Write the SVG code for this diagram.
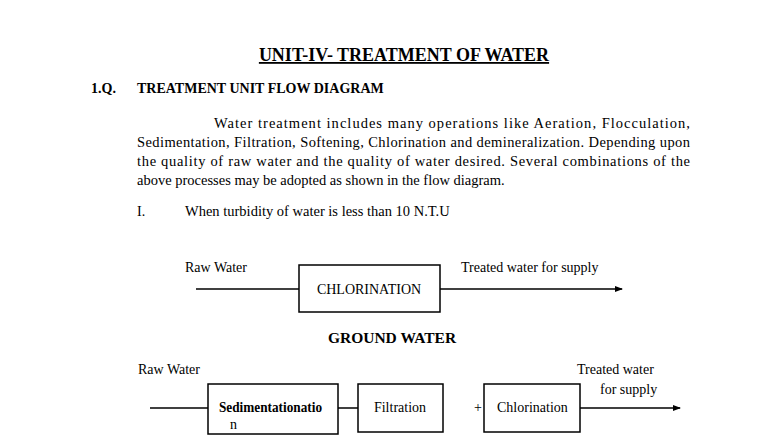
<svg xmlns="http://www.w3.org/2000/svg" width="784" height="441" viewBox="0 0 784 441">
<style>
text{font-family:"Liberation Serif",serif;font-size:14px;fill:#000}
.b{font-weight:bold}
.p{font-size:14.5px}
.box{fill:#fff;stroke:#000;stroke-width:1.5}
.ln{stroke:#000;stroke-width:1.5;fill:none}
</style>
<defs><marker id="ar" markerWidth="8" markerHeight="6" refX="7" refY="3" orient="auto" markerUnits="userSpaceOnUse"><path d="M0,0L8,3L0,6z" fill="#000"/></marker></defs>
<rect width="784" height="441" fill="#fff"/>
<text x="404" y="61" class="b" text-anchor="middle" text-decoration="underline" style="font-size:18px">UNIT-IV- TREATMENT OF WATER</text>
<text x="91" y="93" class="b">1.Q.</text>
<text x="137" y="93" class="b">TREATMENT UNIT FLOW DIAGRAM</text>
<text class="p" x="214" y="128" textLength="476" lengthAdjust="spacing">Water treatment includes many operations like Aeration, Flocculation,</text>
<text class="p" x="137" y="147" textLength="553" lengthAdjust="spacing">Sedimentation, Filtration, Softening, Chlorination and demineralization. Depending upon</text>
<text class="p" x="137" y="166" textLength="553" lengthAdjust="spacing">the quality of raw water and the quality of water desired. Several combinations of the</text>
<text class="p" x="137" y="185">above processes may be adopted as shown in the flow diagram.</text>
<text x="137" y="216">I.</text>
<text class="p" x="185" y="216">When turbidity of water is less than 10 N.T.U</text>
<g id="connectors">
<line class="ln" x1="196" y1="289" x2="299" y2="289"/>
<line class="ln" x1="440" y1="289" x2="622" y2="289" marker-end="url(#ar)"/>
<line class="ln" x1="150" y1="408" x2="208" y2="408"/>
<line class="ln" x1="338" y1="408" x2="358" y2="408"/>
<line class="ln" x1="580" y1="408" x2="680" y2="408" marker-end="url(#ar)"/>
</g>
<g id="n1"><rect class="box" x="299" y="265" width="141" height="47"/><text x="369" y="294" text-anchor="middle">CHLORINATION</text></g>
<text x="185" y="272">Raw Water</text>
<text x="461" y="272">Treated water for supply</text>
<text x="392" y="343" class="b" text-anchor="middle" style="font-size:15.5px">GROUND WATER</text>
<text x="138" y="374">Raw Water</text>
<text x="577" y="374">Treated water</text>
<text x="600" y="394">for supply</text>
<g id="n2"><rect class="box" x="208" y="384" width="130" height="50"/><text x="219" y="412" class="b" textLength="103" lengthAdjust="spacingAndGlyphs">Sedimentationatio</text><text x="230" y="429">n</text></g>
<g id="n3"><rect class="box" x="358" y="384" width="85" height="48"/><text x="400" y="412" text-anchor="middle">Filtration</text></g>
<text x="478" y="412" text-anchor="middle">+</text>
<g id="n4"><rect class="box" x="484" y="384" width="96" height="48"/><text x="497" y="412">Chlorination</text></g>
</svg>
